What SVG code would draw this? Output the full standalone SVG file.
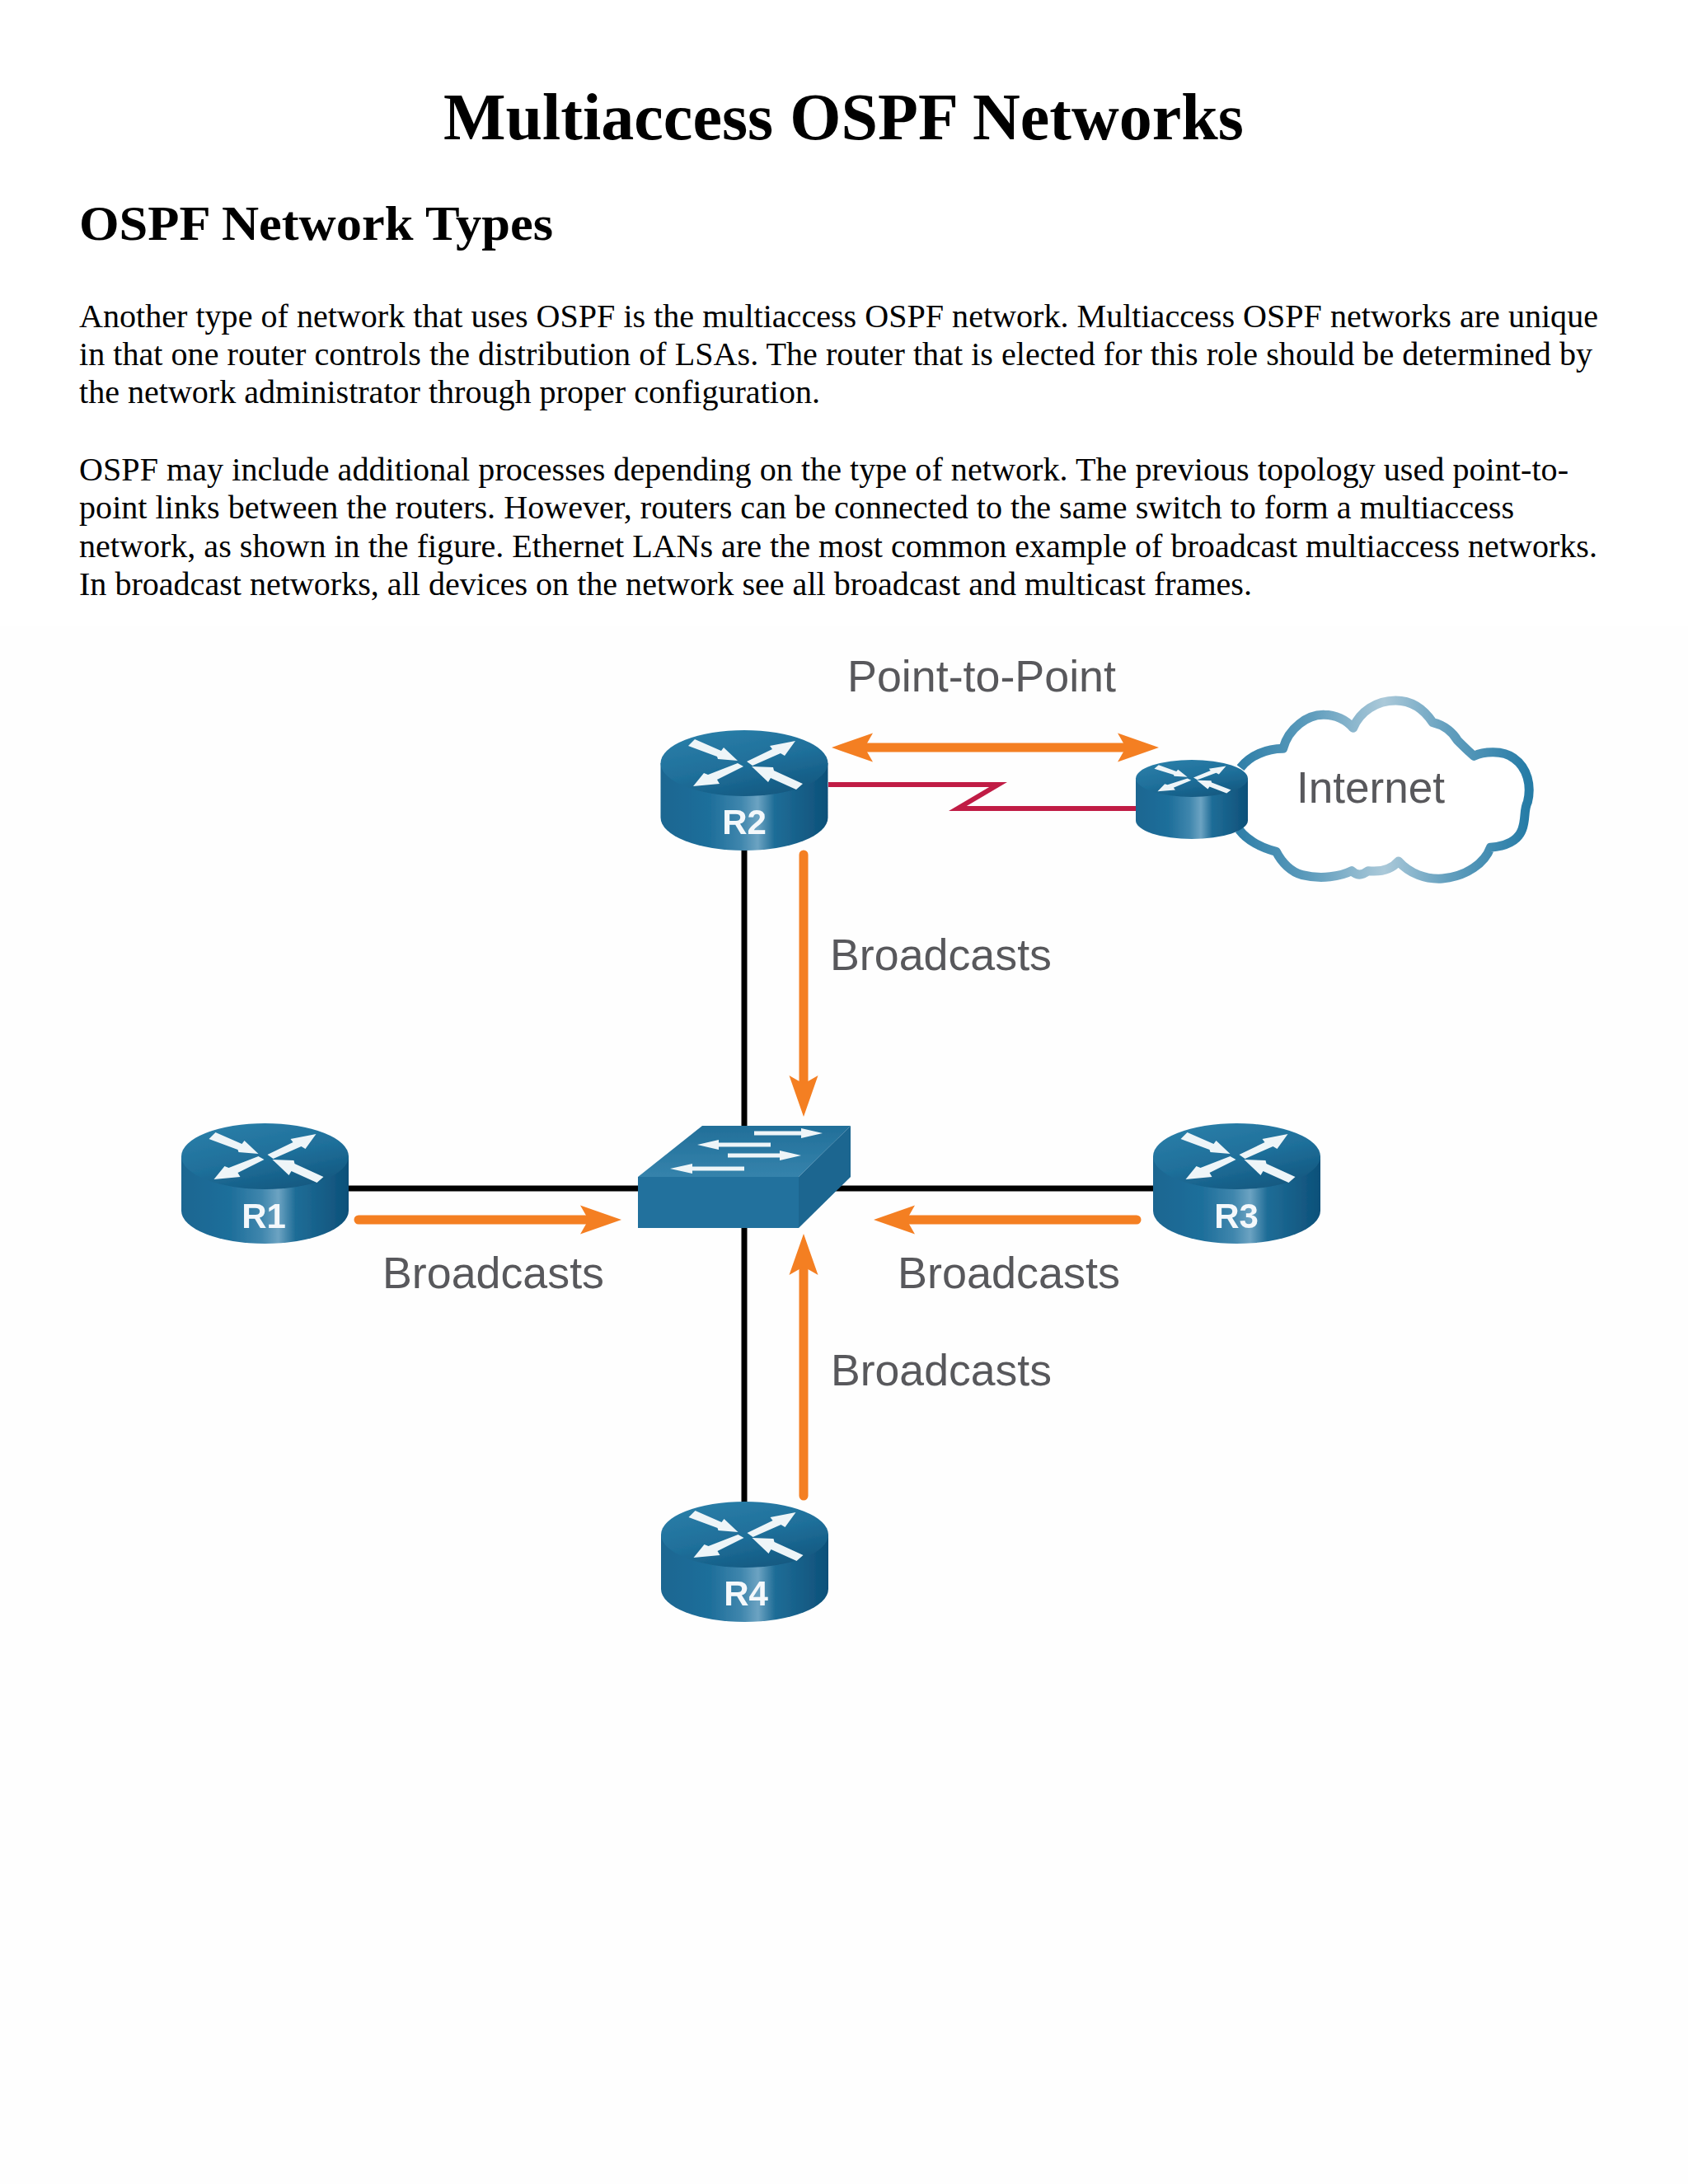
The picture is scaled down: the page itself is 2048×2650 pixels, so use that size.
<svg xmlns="http://www.w3.org/2000/svg" width="2048" height="2650" viewBox="0 0 2048 2650">
<style>
.title{font:700 80px "Liberation Serif",serif;fill:#000}
.heading{font:700 59px "Liberation Serif",serif;fill:#000}
.body{font:400 40.1px "Liberation Serif",serif;fill:#000}
.label{font:400 53px "Liberation Sans",Arial,sans-serif;fill:#58595b}
.rname{font:700 42px "Liberation Sans",Arial,sans-serif;fill:#f4f8fb;text-anchor:middle}
.link{fill:none;stroke:#000;stroke-width:7}
.serial{fill:none;stroke:#c01c45;stroke-width:6;stroke-miterlimit:10}
.flow{fill:none;stroke:#f47f24;stroke-width:11;stroke-linecap:round}
.to{marker-end:url(#head)}
.both{marker-end:url(#head);marker-start:url(#head)}
.side{fill:url(#sideGrad)}
.top{fill:url(#topGrad)}
.sarrow{fill:#eef5f8}
.soft{filter:url(#soft)}
</style>
<defs>
<filter id="soft" x="-5%" y="-5%" width="110%" height="110%"><feGaussianBlur stdDeviation=".7"/></filter>
<linearGradient id="sideGrad" x1="0" y1="0" x2="1" y2="0">
<stop offset="0" stop-color="#1a6691"/><stop offset=".3" stop-color="#1f6f9b"/><stop offset=".48" stop-color="#3f86ad"/><stop offset=".58" stop-color="#6ca3c2"/><stop offset=".68" stop-color="#1f6d97"/><stop offset="1" stop-color="#0d5079"/>
</linearGradient>
<linearGradient id="topGrad" x1=".15" y1="0" x2=".7" y2="1">
<stop offset="0" stop-color="#2b7fa9"/><stop offset=".55" stop-color="#1f6f9a"/><stop offset="1" stop-color="#125880"/>
</linearGradient>
<linearGradient id="swTop" x1="0" y1="0" x2="0" y2="1">
<stop offset="0" stop-color="#226f99"/><stop offset="1" stop-color="#3583ac"/>
</linearGradient>
<linearGradient id="cloudGrad" x1="0" y1="0" x2="1" y2="0">
<stop offset="0" stop-color="#2f7fa8"/><stop offset=".25" stop-color="#5f9dbd"/><stop offset=".5" stop-color="#abc9d9"/><stop offset=".72" stop-color="#639fbe"/><stop offset="1" stop-color="#257ba6"/>
</linearGradient>
<marker id="head" markerUnits="userSpaceOnUse" markerWidth="60" markerHeight="40" viewBox="0 -20 60 40" refX="20" refY="0" orient="auto-start-reverse">
<path d="M0,-17.500 L50,0 L0,17.500 L10,0 Z" fill="#f47f24"/>
</marker>
<g id="crossArrows">
<path class="sarrow" d="M-68,-21 L-60,-29 L-28,-15 L-25,-19 L-8,-3 L-32,-5 L-33,-8 Z"/>
<path class="sarrow" d="M62,-27 L49,-9 L44,-12 L10,3 L3,-2 L34,-17 L31,-21 Z"/>
<path class="sarrow" d="M-62,28 L-49,12 L-44,14 L-8,0 L-1,4 L-33,20 L-30,25 Z"/>
<path class="sarrow" d="M71,25 L63,32 L32,18 L29,23 L9,4 L35,5 L36,9 Z"/>
</g>
<g id="routerBody">
<path class="side" d="M-101.500,0 V66 A101.500,40 0 0 0 101.500,66 V0 Z"/>
<ellipse class="top" rx="101.500" ry="40"/>
<use href="#crossArrows"/>
</g>
</defs>
<rect width="2048" height="2650" fill="#fff"/>
<rect y="760" width="2048" height="1890" fill="#fefefe"/>

<g id="page-text">
<text class="title" x="538" y="169" textLength="971">Multiaccess OSPF Networks</text>
<text class="heading" x="96" y="291" textLength="575" lengthAdjust="spacingAndGlyphs">OSPF Network Types</text>
<text class="body" x="96" y="397" textLength="1843">Another type of network that uses OSPF is the multiaccess OSPF network. Multiaccess OSPF networks are unique</text>
<text class="body" x="96" y="443" textLength="1836">in that one router controls the distribution of LSAs. The router that is elected for this role should be determined by</text>
<text class="body" x="96" y="489" textLength="899">the network administrator through proper configuration.</text>
<text class="body" x="96" y="583" textLength="1807">OSPF may include additional processes depending on the type of network. The previous topology used point-to-</text>
<text class="body" x="96" y="629" textLength="1741">point links between the routers. However, routers can be connected to the same switch to form a multiaccess</text>
<text class="body" x="96" y="676" textLength="1842">network, as shown in the figure. Ethernet LANs are the most common example of broadcast multiaccess networks.</text>
<text class="body" x="96" y="722" textLength="1423">In broadcast networks, all devices on the network see all broadcast and multicast frames.</text>
</g>

<g id="connectors" class="soft">
<path class="link" d="M423,1442 H774"/>
<path class="link" d="M1000,1442 H1400"/>
<path class="link" d="M903,1030 V1370"/>
<path class="link" d="M903,1488 V1824"/>
<path class="serial" d="M1005,952 H1211 L1162,981 H1378"/>
<path class="flow both" d="M1039,907 H1376"/>
<path class="flow to" d="M975,1037 V1325"/>
<path class="flow to" d="M435,1480 H724"/>
<path class="flow to" d="M1379,1480 H1090"/>
<path class="flow to" d="M975,1815 V1527"/>
</g>

<g id="cloud-internet" class="soft">
<path transform="translate(1480,830) scale(.33333)" fill="#fff" stroke="url(#cloudGrad)" stroke-width="33" stroke-linejoin="round" d="M75,305 C110,260 170,235 230,235 C250,160 320,110 380,112 C420,112 460,130 485,160 C510,100 570,60 640,60 C700,60 745,95 775,140 C820,150 850,180 865,205 C885,225 905,245 925,262 C960,245 1030,240 1070,270 C1120,305 1135,370 1120,430 C1105,460 1115,490 1100,530 C1085,570 1040,590 985,595 C965,650 900,700 810,708 C750,712 690,690 650,645 C625,675 590,685 540,680 C520,695 500,700 480,680 C440,700 370,712 300,695 C260,685 225,650 205,610 C150,595 100,570 70,530"/>
<text class="label" x="1573" y="974" textLength="180" lengthAdjust="spacingAndGlyphs">Internet</text>
</g>

<g id="isp-router" class="soft" transform="translate(1446,944.500)">
<path class="side" d="M-68,0 V51 A68,22.500 0 0 0 68,51 V0 Z"/>
<ellipse class="top" rx="68" ry="22.500"/>
<use href="#crossArrows" transform="scale(.67,.56)"/>
</g>

<g id="R2" class="soft"><use href="#routerBody" transform="translate(903,926)"/><text class="rname" x="903" y="1012">R2</text></g>
<g id="R1" class="soft"><use href="#routerBody" transform="translate(321.500,1403)"/><text class="rname" x="320" y="1490">R1</text></g>
<g id="R3" class="soft"><use href="#routerBody" transform="translate(1500.500,1403)"/><text class="rname" x="1500" y="1490">R3</text></g>
<g id="R4" class="soft"><use href="#routerBody" transform="translate(903.500,1862)"/><text class="rname" x="905" y="1948">R4</text></g>

<g id="switch" class="soft">
<polygon points="852,1366 1032,1366 969,1428 774,1428" fill="url(#swTop)"/>
<polygon points="969,1428 1032,1366 1032,1428 969,1490" fill="#1b6690"/>
<rect x="774" y="1428" width="195" height="62" fill="#23719d"/>
<g class="sarrow">
<path d="M915,1372.500 H972 V1369 L998,1375 L972,1381 V1377.500 H915 Z"/>
<path d="M935,1386.500 H872 V1383 L846,1389 L872,1395 V1391.500 H935 Z"/>
<path d="M883,1399.500 H946 V1396 L972,1402 L946,1408 V1404.500 H883 Z"/>
<path d="M903,1415.500 H840 V1412 L813,1418 L840,1424 V1420.500 H903 Z"/>
</g>
</g>

<g id="labels" class="soft">
<text class="label" x="1028" y="839" textLength="326" lengthAdjust="spacingAndGlyphs">Point-to-Point</text>
<text class="label" x="1007" y="1177" textLength="269" lengthAdjust="spacingAndGlyphs">Broadcasts</text>
<text class="label" x="464" y="1563" textLength="269" lengthAdjust="spacingAndGlyphs">Broadcasts</text>
<text class="label" x="1089" y="1563" textLength="270" lengthAdjust="spacingAndGlyphs">Broadcasts</text>
<text class="label" x="1008" y="1681" textLength="268" lengthAdjust="spacingAndGlyphs">Broadcasts</text>
</g>
</svg>
